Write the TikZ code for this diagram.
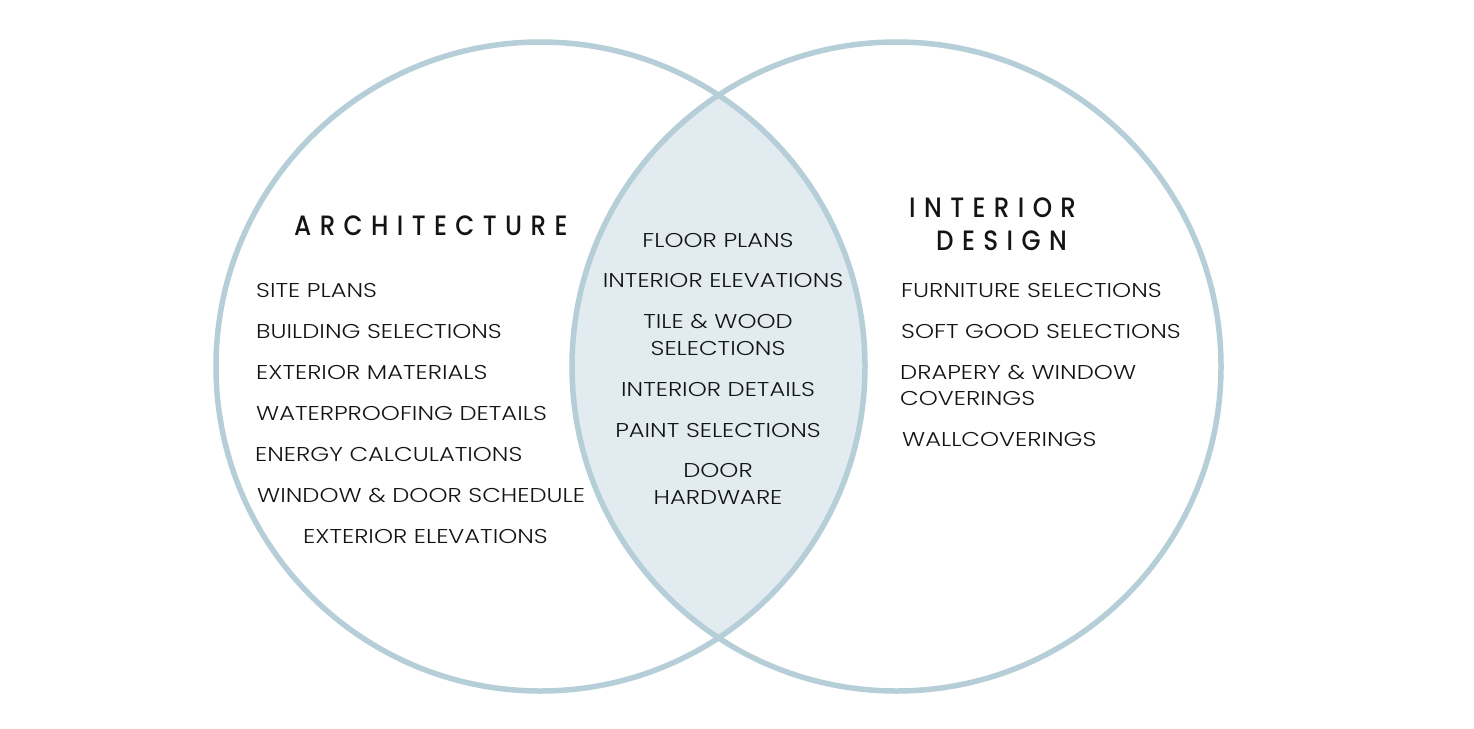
\documentclass[tikz,border=0pt]{standalone}
\usepackage{fontspec}
\setmainfont{Poppins}
\newfontfamily\itemfont{Poppins Light}[FakeStretch=1.21]
\newfontfamily\headfont{Poppins Medium}[FakeStretch=0.88,LetterSpace=30]
\definecolor{ringcol}{HTML}{B6CED8}
\definecolor{lenscol}{HTML}{E2EBEF}
\definecolor{txtcol}{HTML}{141414}
\tikzset{
  ring/.style={draw=ringcol,line width=5.5pt},
  itemtxt/.style={anchor=base west,inner sep=0pt,text=txtcol,font=\itemfont\fontsize{20}{26}\selectfont},
  citemtxt/.style={anchor=base,inner sep=0pt,text=txtcol,align=center,font=\itemfont\fontsize{20}{26.5}\selectfont},
  headtxt/.style={anchor=base west,inner sep=0pt,text=txtcol,font=\headfont\fontsize{28}{33}\selectfont}
}
\begin{document}
\begin{tikzpicture}[x=1pt,y=-1pt]
\useasboundingbox (0,0) rectangle (1474,728);
\coordinate (cl) at (540.5,366.5);
\coordinate (cr) at (896.5,366.5);
\begin{scope}
  \clip (cl) circle[radius=324.5pt];
  \fill[lenscol] (cr) circle[radius=324.5pt];
\end{scope}
\draw[ring] (cl) circle[radius=324.5pt];
\draw[ring] (cr) circle[radius=324.5pt];
% left
\node[headtxt] (arch) at (294,235) {ARCHITECTURE};
\node[itemtxt] (l1) at (256,297) {SITE PLANS};
\node[itemtxt] (l2) at (256,338) {BUILDING SELECTIONS};
\node[itemtxt] (l3) at (256,379) {EXTERIOR MATERIALS};
\node[itemtxt] (l4) at (256,420) {WATERPROOFING DETAILS};
\node[itemtxt] (l5) at (255,461) {ENERGY CALCULATIONS};
\node[itemtxt] (l6) at (257,502) {WINDOW \& DOOR SCHEDULE};
\node[itemtxt] (l7) at (303,543) {EXTERIOR ELEVATIONS};
% center
\node[citemtxt] (c1) at (718,247) {FLOOR PLANS};
\node[citemtxt] (c2) at (723,287) {INTERIOR ELEVATIONS};
\node[citemtxt] (c3) at (718,355) {TILE \& WOOD\\SELECTIONS};
\node[citemtxt] (c4) at (718,396) {INTERIOR DETAILS};
\node[citemtxt] (c5) at (718,437) {PAINT SELECTIONS};
\node[citemtxt] (c6) at (718,504) {DOOR\\HARDWARE};
% right
\node[headtxt] (int) at (909,217) {INTERIOR};
\node[headtxt] (des) at (936,250) {DESIGN};
\node[itemtxt] (r1) at (901,297) {FURNITURE SELECTIONS};
\node[itemtxt] (r2) at (901,338) {SOFT GOOD SELECTIONS};
\node[itemtxt,align=left] (r3) at (900,405) {DRAPERY \& WINDOW\\COVERINGS};
\node[itemtxt] (r4) at (902,446) {WALLCOVERINGS};
\end{tikzpicture}
\end{document}
